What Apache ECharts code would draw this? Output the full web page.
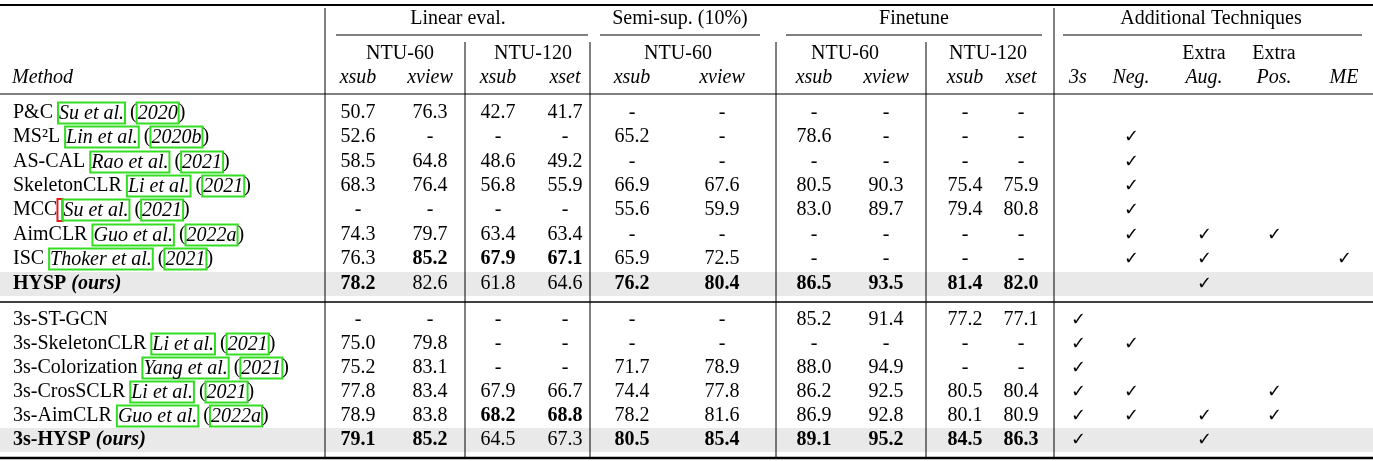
<!DOCTYPE html>
<html>
<head>
<meta charset="utf-8">
<script src="https://cdn.jsdelivr.net/npm/echarts@6/dist/echarts.min.js"></script>
<style>html,body{margin:0;padding:0;background:#fff}#chart{width:1373px;height:461px}</style>
</head>
<body>
<div id="chart"></div>
<script>
// table content
const methods1 = [
  'P&C {c|Su et al.} ({c|2020})',
  'MS²L {c|Lin et al.} ({c|2020b})',
  'AS-CAL {c|Rao et al.} ({c|2021})',
  'SkeletonCLR {c|Li et al.} ({c|2021})',
  'MCC{r| }{c|Su et al.} ({c|2021})',
  'AimCLR {c|Guo et al.} ({c|2022a})',
  'ISC {c|Thoker et al.} ({c|2021})',
  '{b|HYSP }{bi|(ours)}'
];
const methods2 = [
  '3s-ST-GCN',
  '3s-SkeletonCLR {c|Li et al.} ({c|2021})',
  '3s-Colorization {c|Yang et al.} ({c|2021})',
  '3s-CrosSCLR {c|Li et al.} ({c|2021})',
  '3s-AimCLR {c|Guo et al.} ({c|2022a})',
  '{b|3s-HYSP }{bi|(ours)}'
];
// linear xsub, xview, xsub, xset | semi xsub, xview | finetune xsub, xview, xsub, xset
const values1 = [
  ['50.7', '76.3', '42.7', '41.7', '-', '-', '-', '-', '-', '-'],
  ['52.6', '-', '-', '-', '65.2', '-', '78.6', '-', '-', '-'],
  ['58.5', '64.8', '48.6', '49.2', '-', '-', '-', '-', '-', '-'],
  ['68.3', '76.4', '56.8', '55.9', '66.9', '67.6', '80.5', '90.3', '75.4', '75.9'],
  ['-', '-', '-', '-', '55.6', '59.9', '83.0', '89.7', '79.4', '80.8'],
  ['74.3', '79.7', '63.4', '63.4', '-', '-', '-', '-', '-', '-'],
  ['76.3', '85.2', '67.9', '67.1', '65.9', '72.5', '-', '-', '-', '-'],
  ['78.2', '82.6', '61.8', '64.6', '76.2', '80.4', '86.5', '93.5', '81.4', '82.0']
];
const values2 = [
  ['-', '-', '-', '-', '-', '-', '85.2', '91.4', '77.2', '77.1'],
  ['75.0', '79.8', '-', '-', '-', '-', '-', '-', '-', '-'],
  ['75.2', '83.1', '-', '-', '71.7', '78.9', '88.0', '94.9', '-', '-'],
  ['77.8', '83.4', '67.9', '66.7', '74.4', '77.8', '86.2', '92.5', '80.5', '80.4'],
  ['78.9', '83.8', '68.2', '68.8', '78.2', '81.6', '86.9', '92.8', '80.1', '80.9'],
  ['79.1', '85.2', '64.5', '67.3', '80.5', '85.4', '89.1', '95.2', '84.5', '86.3']
];
// best results [row, col]
const bold1 = [[6, 1], [6, 2], [6, 3], [7, 0], [7, 4], [7, 5], [7, 6], [7, 7], [7, 8], [7, 9]];
const bold2 = [[4, 2], [4, 3], [5, 0], [5, 1], [5, 4], [5, 5], [5, 6], [5, 7], [5, 8], [5, 9]];
// 3s, Neg., Extra Aug., Extra Pos., ME
const tech1 = [
  [0, 0, 0, 0, 0], [0, 1, 0, 0, 0], [0, 1, 0, 0, 0], [0, 1, 0, 0, 0],
  [0, 1, 0, 0, 0], [0, 1, 1, 1, 0], [0, 1, 1, 0, 1], [0, 0, 1, 0, 0]
];
const tech2 = [
  [1, 0, 0, 0, 0], [1, 1, 0, 0, 0], [1, 0, 0, 0, 0],
  [1, 1, 0, 1, 0], [1, 1, 1, 1, 0], [1, 0, 1, 0, 0]
];
const groupHeaders = ['Linear eval.', 'Semi-sup. (10%)', 'Finetune', 'Additional Techniques'];
const datasetHeaders = ['NTU-60', 'NTU-120', 'NTU-60', 'NTU-60', 'NTU-120'];
const splitHeaders = ['xsub', 'xview', 'xsub', 'xset', 'xsub', 'xview', 'xsub', 'xview', 'xsub', 'xset'];
const techTop = ['', '', 'Extra', 'Extra', ''];
const techBottom = ['3s', 'Neg.', 'Aug.', 'Pos.', 'ME'];

// layout
const colX = [358, 430, 498, 565, 632, 722, 814, 886, 965, 1021];
const techX = [1078, 1131, 1204, 1274, 1344];
const groupX = [458, 680, 914, 1211];
const groupLine = [[336, 588], [600, 760], [786, 1042], [1063, 1362]];
const datasetX = [400, 533, 678, 845, 988];
const rows1Y = [113, 137, 162, 186, 210, 235, 259, 284];
const rows2Y = [320, 344, 368, 392, 416, 440];
const vLines = [[325, 8, 457], [465, 42, 457], [590, 42, 457], [776, 42, 457], [926, 42, 457], [1054, 8, 457]];
const FONT = 'Liberation Serif';
const FS = 20;

const texts = [];
const T = (x, y, s, opt) => texts.push(Object.assign({ x, y, s }, opt || {}));
groupHeaders.forEach((h, i) => T(groupX[i], 19, h, { size: FS }));
datasetHeaders.forEach((h, i) => T(datasetX[i], 54, h, { size: FS }));
splitHeaders.forEach((h, i) => T(colX[i], 78, h, { size: FS, italic: true }));
techTop.forEach((h, i) => h && T(techX[i], 54, h, { size: FS }));
techBottom.forEach((h, i) => T(techX[i], 78, h, { size: FS, italic: true }));
T(12, 78, 'Method', { size: FS, italic: true, align: 'left' });
function block(methods, values, bold, tech, ys) {
  methods.forEach((m, r) => {
    T(13, ys[r], m, { size: FS, align: 'left', rich: true });
    values[r].forEach((v, c) => {
      const b = bold.some(p => p[0] === r && p[1] === c);
      T(colX[c], ys[r], v, { size: FS, bold: b });
    });
    tech[r].forEach((t, c) => t && T(techX[c], ys[r], '✓', { size: 18 }));
  });
}
block(methods1, values1, bold1, tech1, rows1Y);
block(methods2, values2, bold2, tech2, rows2Y);

const lines = [];
lines.push([0, 5, 1373, 5, 2]);
groupLine.forEach(g => lines.push([g[0], 35, g[1], 35, 1]));
lines.push([0, 94, 1373, 94, 1.2]);
lines.push([0, 302, 1373, 302, 1.5]);
lines.push([0, 458, 1373, 458, 2.5]);
vLines.forEach(v => lines.push([v[0], v[1], v[0], v[2], 1]));
const bands = [[rows1Y[7]], [rows2Y[5]]];

const rich = {
  c: { fontFamily: FONT, fontSize: FS, fontStyle: 'italic', borderColor: '#33dd22', borderWidth: 2, padding: [1, 1, 0, 1] },
  r: { borderColor: '#e02020', borderWidth: 2, width: 5, height: 22, fontSize: 10 },
  b: { fontFamily: FONT, fontSize: FS, fontWeight: 'bold' },
  bi: { fontFamily: FONT, fontSize: FS, fontWeight: 'bold', fontStyle: 'italic' }
};

const chart = echarts.init(document.getElementById('chart'), null, { renderer: 'canvas' });
chart.setOption({
  animation: false,
  grid: { left: 0, right: 0, top: 0, bottom: 0 },
  xAxis: { type: 'value', min: 0, max: 1373, show: false },
  yAxis: { type: 'value', min: 0, max: 461, inverse: true, show: false },
  series: [
    {
      type: 'custom', z: 1,
      data: bands,
      renderItem(params, api) {
        const p0 = api.coord([0, api.value(0) - 12]);
        const p1 = api.coord([1373, api.value(0) + 12]);
        return { type: 'rect', shape: { x: p0[0], y: p0[1], width: p1[0] - p0[0], height: p1[1] - p0[1] }, style: { fill: '#e9e9e9' } };
      }
    },
    {
      type: 'custom', z: 2,
      data: lines,
      renderItem(params, api) {
        const a = api.coord([api.value(0), api.value(1)]);
        const b = api.coord([api.value(2), api.value(3)]);
        return { type: 'line', shape: { x1: a[0], y1: a[1], x2: b[0], y2: b[1] }, style: { stroke: '#000', lineWidth: api.value(4) } };
      }
    },
    {
      type: 'custom', z: 3,
      data: texts.map((t, i) => [t.x, t.y, i]),
      renderItem(params, api) {
        const t = texts[api.value(2)];
        const p = api.coord([t.x, t.y]);
        return {
          type: 'text', x: p[0], y: p[1],
          style: {
            text: t.s, fill: '#000', fontFamily: FONT, fontSize: t.size,
            fontStyle: t.italic ? 'italic' : 'normal', fontWeight: t.bold ? 'bold' : 'normal',
            align: t.align || 'center', verticalAlign: 'middle',
            rich: t.rich ? rich : undefined
          }
        };
      }
    }
  ]
});
</script>
</body>
</html>
